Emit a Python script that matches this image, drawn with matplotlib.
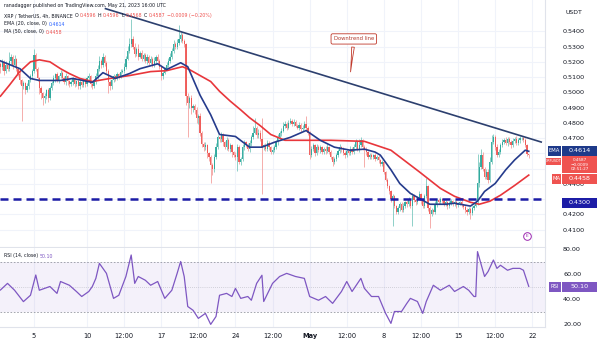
import numpy as np
import matplotlib.pyplot as plt
from matplotlib.patches import Rectangle
from matplotlib.ticker import FixedLocator, FuncFormatter

W, H = 600, 345

# 4h candles, index 0 = Apr 1 2023 00:00 UTC, first drawn candle at index 5
FIRST_IDX = 5
FIRST_OPEN_E4 = 5187

# closes in 1e-4 USDT
CLOSE_E4 = [
    5168, 5200, 5142, 5181, 5155, 5207, 5232, 5181, 5220, 5155,
    5123, 5078, 5039, 5059, 5014, 5039, 5078, 5104, 5142, 5245,
    5155, 5091, 5027, 4994, 4962, 4975, 5014, 4962, 5027, 5059,
    5091, 5117, 5078, 5104, 5130, 5091, 5065, 5104, 5072, 5052,
    5065, 5091, 5052, 5072, 5039, 5065, 5046, 5078, 5052, 5091,
    5104, 5052, 5039, 5065, 5104, 5155, 5207, 5181, 5232, 5194,
    5142, 5065, 5039, 5078, 5104, 5091, 5117, 5104, 5136, 5142,
    5168, 5220, 5271, 5316, 5348, 5297, 5252, 5284, 5232, 5258,
    5220, 5245, 5207, 5232, 5194, 5220, 5181, 5207, 5232, 5207,
    5168, 5104, 5130, 5155, 5181, 5207, 5232, 5271, 5316, 5297,
    5322, 5348, 5374, 5335, 5316, 4975, 4930, 4962, 4898, 4911,
    4885, 4834, 4847, 4737, 4660, 4641, 4654, 4602, 4577, 4525,
    4499, 4577, 4641, 4705, 4692, 4718, 4673, 4641, 4686, 4628,
    4654, 4609, 4589, 4577, 4641, 4544, 4564, 4641, 4673, 4654,
    4628, 4667, 4705, 4737, 4769, 4718, 4737, 4692, 4641, 4654,
    4628, 4667, 4641, 4609, 4622, 4641, 4673, 4705, 4731, 4750,
    4782, 4795, 4769, 4802, 4814, 4795, 4808, 4782, 4769, 4789,
    4757, 4769, 4795, 4769, 4737, 4589, 4628, 4654, 4602, 4641,
    4622, 4641, 4609, 4628, 4615, 4641, 4609, 4577, 4544, 4564,
    4589, 4615, 4641, 4628, 4602, 4589, 4615, 4602, 4628, 4609,
    4641, 4673, 4628, 4654, 4686, 4641, 4628, 4609, 4577, 4589,
    4577, 4589, 4564, 4577, 4557, 4532, 4544, 4480, 4429, 4384,
    4351, 4300, 4319, 4255, 4216, 4242, 4268, 4229, 4255, 4281,
    4268, 4294, 4255, 4319, 4294, 4281, 4306, 4332, 4287, 4255,
    4319, 4384, 4242, 4204, 4229, 4216, 4268, 4294, 4281, 4300,
    4287, 4268, 4281, 4255, 4274, 4287, 4268, 4281, 4261, 4274,
    4281, 4261, 4249, 4229, 4216, 4236, 4210, 4242, 4255, 4281,
    4403, 4512, 4589, 4499, 4448, 4480, 4429, 4544, 4673, 4705,
    4641, 4589, 4609, 4654, 4673, 4686, 4667, 4692, 4673, 4654,
    4679, 4692, 4667, 4686, 4699, 4699, 4686, 4654, 4596, 4587,
]

# wick lengths beyond the body, 1e-4 USDT
UPPER_E4 = [
    15, 20, 10, 25, 12, 60, 18, 10, 22, 8,
    12, 30, 8, 15, 10, 20, 12, 18, 10, 40,
    15, 8, 10, 12, 6, 20, 10, 14, 12, 18,
    22, 12, 15, 10, 18, 8, 14, 20, 10, 12,
    16, 10, 12, 8, 14, 18, 10, 12, 16, 14,
    20, 10, 12, 18, 25, 22, 30, 14, 26, 12,
    10, 8, 14, 12, 16, 10, 18, 12, 20, 14,
    22, 18, 30, 40, 130, 20, 25, 14, 30, 12,
    20, 16, 10, 22, 12, 18, 10, 24, 14, 16,
    10, 8, 12, 14, 20, 18, 26, 22, 30, 14,
    30, 90, 20, 15, 12, 10, 22, 14, 18, 10,
    12, 20, 14, 16, 10, 12, 24, 10, 8, 12,
    10, 20, 24, 18, 12, 20, 14, 10, 22, 12,
    16, 10, 8, 20, 18, 12, 14, 22, 16, 10,
    14, 20, 18, 40, 65, 12, 22, 18, 142, 10,
    12, 20, 14, 8, 18, 16, 12, 20, 18, 14,
    22, 18, 10, 16, 20, 14, 18, 10, 12, 16,
    10, 14, 20, 50, 10, 12, 18, 14, 10, 20,
    12, 16, 10, 14, 18, 20, 10, 12, 8, 14,
    16, 12, 18, 10, 14, 12, 16, 10, 22, 14,
    18, 24, 12, 40, 20, 10, 12, 14, 10, 16,
    12, 10, 14, 12, 10, 8, 12, 10, 8, 10,
    12, 8, 14, 10, 8, 16, 12, 14, 18, 10,
    12, 18, 10, 20, 14, 10, 16, 22, 12, 10,
    18, 57, 10, 12, 14, 10, 18, 12, 14, 16,
    10, 14, 12, 8, 16, 12, 10, 14, 12, 8,
    10, 12, 8, 10, 12, 14, 10, 16, 12, 18,
    193, 30, 40, 20, 15, 20, 18, 30, 45, 20,
    14, 20, 18, 12, 22, 16, 20, 14, 18, 12,
    20, 14, 22, 18, 12, 10, 14, 12, 10, 0,
]
LOWER_E4 = [
    40, 20, 30, 15, 18, 12, 25, 30, 10, 14,
    18, 20, 225, 16, 22, 12, 20, 10, 14, 18,
    12, 16, 40, 38, 42, 30, 20, 24, 12, 10,
    14, 20, 12, 16, 10, 18, 12, 14, 22, 16,
    10, 14, 18, 12, 20, 16, 12, 10, 14, 12,
    14, 18, 20, 12, 10, 16, 12, 20, 14, 22,
    18, 70, 24, 14, 12, 16, 10, 14, 12, 10,
    12, 14, 10, 16, 20, 14, 22, 12, 18, 10,
    16, 12, 14, 20, 18, 10, 16, 12, 18, 14,
    16, 20, 14, 12, 10, 18, 12, 14, 10, 16,
    12, 10, 16, 14, 18, 60, 225, 30, 40, 25,
    30, 35, 40, 20, 16, 22, 18, 30, 25, 120,
    40, 18, 14, 12, 20, 16, 22, 14, 18, 12,
    20, 30, 14, 18, 95, 16, 22, 14, 18, 12,
    14, 16, 20, 12, 10, 18, 14, 12, 309, 16,
    14, 12, 18, 16, 10, 14, 12, 16, 10, 14,
    12, 14, 16, 10, 12, 14, 18, 12, 10, 16,
    14, 12, 10, 16, 18, 26, 14, 12, 18, 10,
    12, 16, 14, 10, 18, 12, 14, 16, 24, 12,
    14, 12, 10, 16, 12, 18, 14, 12, 10, 16,
    12, 14, 10, 16, 12, 20, 116, 18, 14, 12,
    16, 12, 14, 10, 18, 12, 16, 14, 10, 12,
    14, 18, 174, 12, 16, 14, 20, 12, 10, 14,
    16, 12, 10, 129, 14, 18, 12, 10, 16, 14,
    12, 10, 16, 90, 14, 12, 10, 16, 12, 14,
    10, 14, 12, 16, 10, 12, 14, 10, 16, 12,
    14, 12, 16, 18, 20, 14, 40, 12, 10, 8,
    16, 20, 14, 12, 18, 14, 20, 16, 12, 10,
    18, 14, 12, 16, 10, 12, 14, 18, 10, 16,
    12, 10, 14, 12, 16, 10, 12, 14, 10, 19,
]

EMA_IDX = [5, 16, 22, 27, 39, 46, 57, 63, 70, 78, 84, 94, 99, 107, 111, 118, 124, 129,
           138, 146, 153, 160, 169, 178, 186, 194, 203, 211, 217, 220, 226, 231, 237,
           242, 248, 257, 262, 271, 275, 279, 285, 291, 296, 302, 304]
EMA_E4 = [5206, 5155, 5091, 5078, 5078, 5091, 5065, 5129, 5091, 5123, 5155, 5187, 5149,
          5194, 5168, 4981, 4853, 4724, 4711, 4641, 4641, 4673, 4705, 4750, 4686, 4641,
          4621, 4628, 4609, 4589, 4493, 4403, 4338, 4306, 4267, 4267, 4274, 4255, 4287,
          4351, 4403, 4493, 4557, 4621, 4614]

MA_IDX = [5, 10, 16, 22, 27, 33, 39, 44, 50, 57, 67, 78, 90, 99, 108, 112, 118, 124, 129,
          135, 141, 146, 152, 158, 166, 175, 192, 211, 226, 242, 254, 262, 271, 276, 282,
          288, 296, 304]
MA_E4 = [4975, 5046, 5136, 5200, 5213, 5200, 5155, 5123, 5091, 5071, 5091, 5110, 5136,
         5142, 5168, 5149, 5110, 5071, 5007, 4943, 4885, 4834, 4782, 4724, 4686, 4686,
         4686, 4679, 4621, 4480, 4371, 4319, 4280, 4267, 4287, 4326, 4390, 4458]

RSI_IDX = [5, 9, 13, 18, 22, 25, 27, 33, 37, 39, 44, 48, 51, 55, 57, 59, 61, 63, 65, 69,
           72, 76, 79, 81, 83, 87, 90, 94, 98, 102, 105, 107, 109, 111, 114, 117, 121,
           124, 127, 129, 133, 136, 138, 141, 145, 147, 150, 153, 154, 159, 163, 167,
           172, 177, 180, 185, 189, 193, 198, 201, 204, 209, 211, 215, 219, 223, 226,
           228, 232, 235, 237, 241, 244, 246, 248, 250, 254, 259, 262, 267, 270, 273,
           274, 275, 279, 281, 284, 286, 288, 292, 295, 299, 301, 304]
RSI_VAL = [47.2, 52.5, 47, 37.9, 43, 59.2, 47, 50, 44.5, 54, 51, 46, 42, 46, 50, 56.5,
           68.5, 64.5, 60.5, 40.5, 43, 58, 75.2, 52.5, 58, 55, 51, 54, 40.5, 47, 60.5, 70,
           58, 34, 31, 24.5, 28.5, 19.7, 26, 43, 44.5, 42, 48.5, 40.5, 42, 39, 52.5, 59,
           38, 52.5, 58, 60.5, 58, 56.5, 42, 39, 42, 36.5, 46, 54, 46, 56.5, 48.5, 42, 42,
           28.5, 20.5, 30, 30, 36.5, 40.5, 38, 28.5, 38, 44.5, 51, 47, 51, 46, 50, 47, 42,
           42, 77.9, 58, 62, 71.2, 64.5, 67, 63, 64.5, 64.5, 63, 50.1]

# downtrend line endpoints (candle index, price)
TREND_IDX = [64, 311.5]
TREND_VAL = [0.5550, 0.4673]
SUPPORT = 0.4300

DAY_TICKS = [4, 9, 12.5, 16, 19.5, 23, 26.5, 30, 33.5, 37, 40.5, 44, 47.5, 51]
DAY_LABELS = ["5", "10", "12:00", "17", "12:00", "24", "12:00", "May",
              "12:00", "8", "12:00", "15", "12:00", "22"]
PRICE_TICKS = [0.41, 0.42, 0.43, 0.44, 0.45, 0.46, 0.47, 0.48, 0.49,
               0.50, 0.51, 0.52, 0.53, 0.54]
# scale levels sitting under the EMA / last price / MA / support tags
PRICE_TAGGED = [0.43, 0.45, 0.46]
RSI_TICKS = [20, 40, 60, 80]

UP = '#26a69a'
DOWN = '#ef5350'
UP_WICK = '#7cc9bf'
DOWN_WICK = '#f4a09e'
EMA_C = '#253b8c'
MA_C = '#e8363b'
RSI_C = '#7e57c2'
TEXT_C = '#131722'
GRID_C = '#f0f3fa'
LINE_C = '#e0e3eb'


def fx(px):
    return px / W


def fy(py):
    return 1 - py / H


def price_label(v, _):
    if any(abs(v - t) < 1e-6 for t in PRICE_TAGGED):
        return ''
    return f'{v:.4f}'


close = np.array(CLOSE_E4) / 1e4
opens = np.r_[FIRST_OPEN_E4 / 1e4, close[:-1]]
idx = np.arange(FIRST_IDX, FIRST_IDX + len(close))
top = np.maximum(opens, close)
bot = np.minimum(opens, close)
highs = top + np.array(UPPER_E4) / 1e4
lows = bot - np.array(LOWER_E4) / 1e4
rising = close >= opens
body_c = np.where(rising, UP, DOWN)
wick_c = np.where(rising, UP_WICK, DOWN_WICK)

plt.rcParams['font.family'] = ['DejaVu Sans']
fig = plt.figure(figsize=(W / 100, H / 100), dpi=100)
fig.patch.set_facecolor('white')

ax = fig.add_axes([0, fy(247), fx(545), 247 / H])
rax = fig.add_axes([0, fy(327), fx(545), 79 / H], sharex=ax)

xticks = [d * 6 for d in DAY_TICKS]
for a in (ax, rax):
    a.set_xlim(4.75, 313.2)
    a.xaxis.set_major_locator(FixedLocator(xticks))
    a.grid(True, axis='x', color=GRID_C, lw=0.8)
    for s in a.spines.values():
        s.set_visible(False)
    for side in ('right', 'bottom'):
        a.spines[side].set_visible(True)
        a.spines[side].set_color(LINE_C)
    a.set_axisbelow(True)

# price pane
ax.set_ylim(0.3987, 0.5605)
ax.yaxis.set_major_locator(FixedLocator(PRICE_TICKS))
ax.yaxis.set_major_formatter(FuncFormatter(price_label))
ax.yaxis.tick_right()
ax.tick_params(axis='y', length=0, pad=13, labelsize=4.6, labelcolor=TEXT_C)
ax.tick_params(axis='x', length=0, labelbottom=False)
ax.grid(True, axis='y', color=GRID_C, lw=0.8)

ax.vlines(idx, lows, highs, colors=wick_c, lw=0.6, zorder=2)
ax.bar(idx, np.maximum(top - bot, 0.0002), bottom=bot, width=0.7,
       color=body_c, lw=0, alpha=0.9, zorder=3)

ax.plot(MA_IDX, np.array(MA_E4) / 1e4, color=MA_C, lw=1.2, zorder=4)
ax.plot(EMA_IDX, np.array(EMA_E4) / 1e4, color=EMA_C, lw=1.2, zorder=5)
ax.plot(TREND_IDX, TREND_VAL, color='#2c3f6e', lw=1.2, zorder=5,
        solid_capstyle='butt')
ax.axhline(SUPPORT, color='#1c1ca6', lw=1.8, dashes=(3.2, 2.0), zorder=5)

ax.annotate('Downtrend line', xy=(203, 0.5116), xytext=(205, 0.5350),
            fontsize=3.8, color='#b03a2e', ha='center', va='center', zorder=6,
            bbox=dict(boxstyle='round,pad=0.5,rounding_size=0.3', fc='white',
                      ec='#c0392b', lw=0.6),
            arrowprops=dict(arrowstyle='wedge,tail_width=0.5,shrink_factor=0.4',
                            fc='white', ec='#c0392b', lw=0.6))

ax.plot([303], [0.4062], marker='o', ms=5.5, mfc='white', mec='#9c27b0',
        mew=0.7, zorder=6)
ax.text(303, 0.4062, 'E', fontsize=3.2, color='#9c27b0', ha='center',
        va='center', zorder=7)

# RSI pane
rax.set_ylim(17.6, 80.8)
rax.fill_between([0, 320], 30, 70, color=RSI_C, alpha=0.08, lw=0)
for lvl in (70, 30):
    rax.axhline(lvl, color='#9598a1', lw=0.6, dashes=(2, 2))
rax.axhline(50, color='#9598a1', lw=0.5, dashes=(1, 2), alpha=0.7)
rax.plot(RSI_IDX, RSI_VAL, color=RSI_C, lw=0.9)
rax.yaxis.set_major_locator(FixedLocator(RSI_TICKS))
rax.yaxis.set_major_formatter(FuncFormatter(lambda v, _: f'{v:.2f}'))
rax.yaxis.tick_right()
rax.tick_params(axis='y', length=0, pad=13, labelsize=4.6, labelcolor=TEXT_C)
rax.set_xticklabels(DAY_LABELS)
rax.tick_params(axis='x', length=0, pad=4, labelsize=4.8, labelcolor=TEXT_C)
for lab in rax.get_xticklabels():
    if lab.get_text() == 'May':
        lab.set_fontweight('bold')

renderer = fig.canvas.get_renderer()
FS = 3.4


def text_row(x, y, parts, gap=1.6):
    # lay pieces left to right, each starting where the previous one ended
    for s, c in parts:
        t = fig.text(fx(x), fy(y), s, fontsize=FS, color=c, va='center')
        x += t.get_window_extent(renderer).width + gap


text_row(4, 6, [('ranadagger published on TradingView.com, May 21, 2023 16:00 UTC', TEXT_C)])
text_row(4, 15.5, [('XRP / TetherUS, 4h, BINANCE', TEXT_C), ('O', TEXT_C),
                   ('0.4596', DOWN), ('H', TEXT_C), ('0.4596', DOWN),
                   ('L', TEXT_C), ('0.4568', DOWN), ('C', TEXT_C),
                   ('0.4587', DOWN), ('\u22120.0009 (\u22120.20%)', DOWN)])
text_row(4, 24, [('EMA (20, close, 0)', TEXT_C), ('0.4614', '#2962ff')])
text_row(4, 32, [('MA (50, close, 0)', TEXT_C), ('0.4458', DOWN)])
text_row(4, 256, [('RSI (14, close)', TEXT_C), ('50.10', RSI_C)])
fig.text(fx(566), fy(13), 'USDT', fontsize=4.4, color=TEXT_C, va='center')


def scale_tag(x0, x1, yc, h, s, color, size=4.6):
    fig.add_artist(Rectangle((fx(x0), fy(yc + h / 2)), (x1 - x0) / W, h / H,
                             transform=fig.transFigure, fc=color, ec='none'))
    fig.text(fx((x0 + x1) / 2), fy(yc), s, fontsize=size, color='white',
             ha='center', va='center', linespacing=1.1)


scale_tag(548, 561, 151, 10, 'EMA', '#1e3a8a', 3.8)
scale_tag(562, 597, 151, 10, '0.4614', '#1e3a8a')
scale_tag(546, 561, 161, 7, 'XRPUSDT', DOWN, 2.3)
scale_tag(562, 597, 164.5, 17, '0.4587\n\u22120.0009\n02:51:27', DOWN, 3.0)
scale_tag(552, 561, 179, 10, 'MA', DOWN, 3.8)
scale_tag(562, 597, 179, 10, '0.4458', DOWN)
scale_tag(562, 597, 203, 10, '0.4300', '#1c1ca6')
scale_tag(549, 561, 287, 10, 'RSI', RSI_C, 3.8)
scale_tag(562, 597, 287, 10, '50.10', RSI_C)

fig.savefig('out.png', dpi=100, facecolor='white')
